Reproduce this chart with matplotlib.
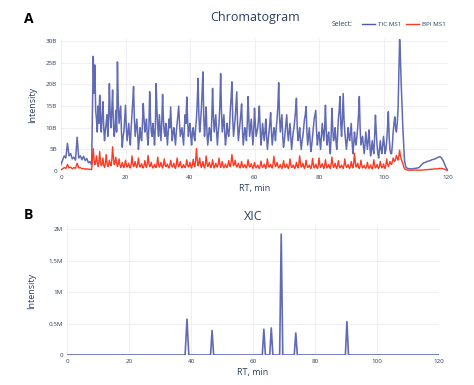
import numpy as np
import matplotlib
matplotlib.use("Agg")
import matplotlib.pyplot as plt
from matplotlib.lines import Line2D

plt.rcParams['font.family'] = ['Open Sans', 'DejaVu Sans']

# retention time (min): 0.5 min steps at the ends, 0.25 min in the dense part
rt_head = np.arange(0, 10, 0.5)
rt_body = np.arange(10, 107, 0.25)
rt_tail = np.arange(107, 120.5, 0.5)

# TIC MS1 intensity, in billions
tic_head = [1.5, 2.5, 3.5, 3.0, 6.4, 3.5, 4.0, 2.8, 3.2, 2.5, 7.8, 3.0, 3.5, 2.6, 3.4, 2.4, 2.9, 1.9, 2.2, 1.4]
tic_body = [
    26.5, 18, 24.5, 14, 12, 9, 15, 11, 17.5, 12, 9, 13, 16, 10, 7, 9.5, 11, 13, 8, 12,
    20.2, 13, 10, 14, 18.7, 11, 8, 10, 14, 9, 25.2, 16, 11, 13, 15, 9, 5.5, 8, 9, 12,
    15.2, 10, 7, 9, 11, 8, 6, 10, 13, 16, 19.5, 12, 8, 10, 12, 9, 5, 7, 10, 8,
    7, 11, 15.6, 12, 9, 10, 12, 8, 6, 10, 18.3, 12, 9, 8, 11, 9, 6, 10, 20.2, 14,
    10, 8, 13, 10, 7, 11, 17.7, 12, 9, 8, 11, 9, 6, 9, 12, 10, 14.8, 10, 7, 9,
    10, 8, 6, 9, 11, 13, 15, 11, 8, 9, 10, 8, 6, 10, 13, 11, 17.1, 12, 8, 10,
    11, 8, 6, 9, 10, 8, 7, 10, 12, 16, 21.4, 13, 9, 11, 14, 18, 22.9, 13, 8, 11,
    14.8, 9, 6, 8, 10, 9, 7, 12, 19.1, 13, 9, 11, 13, 9, 6, 9, 11, 15, 22.5, 14,
    9, 11, 13, 9, 6, 8, 11, 9, 8, 10, 14, 17, 20.6, 12, 8, 10, 12, 15, 18.3, 11,
    7, 9, 11, 13, 15.5, 10, 6, 8, 10, 9, 7, 11, 17.2, 12, 8, 10, 12, 9, 6, 9,
    14.5, 11, 8, 9, 10, 12, 15, 10, 6, 8, 11, 9, 7, 9, 12, 8, 5, 7, 9, 11,
    13.5, 9, 6, 8, 10, 9, 7, 10, 12, 15, 20.4, 13, 9, 11, 13, 8, 5.5, 7, 9, 11,
    13, 9, 7, 9, 11, 8, 5, 7, 9, 10, 12, 14, 16.8, 10, 7, 8, 10, 7, 5, 7,
    8, 10, 12, 13, 14.9, 9, 6, 8, 10, 7, 4.5, 6, 8, 10, 12, 13, 14, 9, 6, 8,
    9, 7, 5, 8, 11, 9, 7, 10, 15.2, 9, 6, 8, 9, 6, 4, 8, 14.5, 10, 7, 8,
    10, 7, 5, 8, 12, 14, 17.2, 11, 8, 12, 17.9, 12, 9, 7, 5, 7, 10, 8, 7, 9,
    11, 7, 4, 6, 9, 7, 6, 8, 10, 13, 17.2, 10, 6, 7, 8, 6, 4, 6, 9, 7,
    5, 7, 9.5, 6, 3.5, 5, 7, 5, 4, 8, 12.9, 9, 6, 4, 3, 5, 7, 5, 4, 6,
    8, 6, 4, 5, 7, 10, 13.7, 8, 5, 4, 4, 6, 9, 11, 12.5, 10, 9, 11, 14, 22,
    30.4, 26, 20, 15, 10, 6, 2.5, 1.5,
]
tic_tail = [0.8, 0.6, 0.5, 0.5, 0.5, 0.6,
            0.6, 0.7, 0.8, 1.2, 1.6, 1.9, 2.0, 2.2, 2.3, 2.4, 2.6, 2.7, 2.8, 3.0, 3.2, 3.3, 3.0, 2.4, 1.5, 0.6, 0.2]

# BPI MS1 intensity, in billions
bpi_head = [0.3, 0.5, 0.8, 0.6, 1.5, 0.7, 0.9, 0.5, 0.8, 0.6, 1.8, 0.7, 0.8, 0.5, 0.6, 0.4, 0.5, 0.4, 0.4, 0.3]
bpi_body = [
    5.2, 2.5, 1.5, 2.2, 3.5, 1.8, 1.0, 2.0, 4.5, 2.0, 1.2, 1.6, 3.0, 1.4, 0.8, 1.5, 3.8, 2.0, 1.0, 1.4,
    2.5, 1.6, 1.2, 2.5, 5.6, 3.0, 1.5, 2.0, 3.2, 1.8, 1.0, 1.6, 2.8, 1.5, 0.8, 1.2, 2.0, 1.2, 0.8, 1.4,
    2.5, 1.4, 0.9, 1.2, 1.8, 1.0, 0.7, 1.5, 3.5, 1.8, 1.0, 1.4, 2.2, 1.2, 0.8, 1.6, 3.0, 1.5, 0.9, 1.2,
    1.7, 1.0, 0.7, 1.3, 2.4, 1.3, 0.8, 1.8, 3.6, 1.8, 1.0, 1.3, 2.0, 1.1, 0.7, 1.0, 1.5, 1.0, 0.8, 1.6,
    3.2, 1.6, 0.9, 1.3, 2.0, 1.1, 0.7, 1.4, 2.8, 1.5, 1.0, 1.2, 1.6, 1.0, 0.7, 1.3, 2.5, 1.4, 0.9, 1.2,
    1.8, 1.0, 0.6, 1.5, 3.0, 1.6, 1.0, 1.4, 2.2, 1.2, 0.7, 1.0, 1.5, 1.0, 0.8, 1.4, 2.6, 1.4, 0.9, 1.2,
    2.0, 1.1, 0.7, 1.5, 2.7, 1.5, 1.0, 2.4, 5.2, 2.6, 1.2, 1.8, 3.0, 1.5, 0.8, 1.3, 2.2, 1.2, 0.7, 1.4,
    3.5, 1.8, 1.0, 1.4, 2.0, 1.2, 0.8, 1.5, 2.6, 1.4, 0.7, 1.1, 1.8, 1.2, 0.9, 1.6, 3.0, 1.6, 0.8, 1.3,
    2.2, 1.2, 0.7, 1.1, 1.6, 1.0, 0.8, 1.4, 2.4, 1.4, 1.0, 2.0, 3.8, 2.2, 1.2, 1.6, 2.5, 1.4, 0.9, 1.3,
    1.8, 1.1, 0.7, 1.3, 2.2, 1.2, 0.8, 1.1, 1.5, 1.0, 0.7, 1.4, 2.6, 1.4, 0.9, 1.2, 1.7, 1.0, 0.6, 1.1,
    2.0, 1.1, 0.7, 1.0, 1.4, 0.9, 0.6, 1.2, 2.3, 1.2, 0.8, 1.1, 1.6, 1.0, 0.6, 1.4, 2.8, 1.5, 0.9, 1.1,
    1.5, 1.0, 0.7, 1.6, 3.4, 1.8, 1.0, 1.3, 2.0, 1.1, 0.7, 1.0, 1.5, 0.9, 0.6, 1.2, 2.4, 1.3, 0.8, 1.1,
    1.6, 1.0, 0.6, 1.3, 2.8, 1.4, 0.8, 1.0, 1.4, 0.9, 0.6, 1.1, 2.0, 1.1, 0.7, 1.6, 3.5, 1.7, 0.9, 1.2,
    1.8, 1.0, 0.6, 1.2, 2.5, 1.3, 0.8, 1.0, 1.4, 0.9, 0.6, 1.3, 2.9, 1.4, 0.7, 1.0, 1.6, 1.0, 0.6, 1.2,
    3.0, 1.5, 0.8, 1.2, 1.7, 1.0, 0.6, 1.3, 2.6, 1.3, 0.7, 1.0, 1.5, 0.9, 0.6, 1.5, 3.2, 1.6, 0.8, 1.1,
    1.8, 1.0, 0.6, 1.2, 2.4, 1.2, 0.7, 1.0, 1.4, 0.9, 0.6, 1.3, 2.8, 1.4, 0.8, 1.0, 1.5, 0.9, 0.6, 1.1,
    2.2, 1.2, 0.7, 1.8, 4.1, 2.0, 0.9, 1.2, 1.8, 1.0, 0.6, 1.2, 2.5, 1.3, 0.7, 0.9, 1.3, 0.8, 0.6, 1.0,
    2.0, 1.1, 0.6, 0.9, 1.4, 0.8, 0.5, 1.2, 2.6, 1.3, 0.7, 1.0, 1.5, 0.9, 0.6, 1.1, 2.2, 1.2, 0.7, 1.0,
    1.6, 1.0, 0.6, 1.4, 2.8, 1.6, 1.0, 1.5, 2.2, 1.7, 1.5, 2.2, 3.0, 2.4, 2.2, 2.8, 3.6, 3.0, 2.5, 3.4,
    4.8, 3.5, 2.8, 2.2, 1.8, 1.0, 0.6, 0.4,
]
bpi_tail = [0.3, 0.2, 0.2, 0.2, 0.2, 0.2,
            0.2, 0.2, 0.2, 0.2, 0.2, 0.25, 0.3, 0.3, 0.35, 0.4, 0.4, 0.45, 0.5, 0.5, 0.55, 0.6, 0.6, 0.5, 0.4, 0.2, 0.1]

# XIC trace (min, millions)
rt_xic = [0, 38.1, 38.7, 39.3, 46.3, 46.8, 47.3, 63.0, 63.5, 64.0, 65.4, 65.9, 66.4,
          68.6, 69.1, 69.6, 73.3, 73.8, 74.3, 89.8, 90.3, 90.8, 120]
xic = [0, 0, 0.57, 0, 0, 0.39, 0, 0, 0.41, 0, 0, 0.43, 0,
       0, 1.92, 0, 0, 0.35, 0, 0, 0.53, 0, 0]

a_yticks = [0, 5, 10, 15, 20, 25, 30]
a_ylabels = ['0', '5B', '10B', '15B', '20B', '25B', '30B']
b_yticks = [0, 0.5, 1, 1.5, 2]
b_ylabels = ['0', '0.5M', '1M', '1.5M', '2M']
xticks = [0, 20, 40, 60, 80, 100, 120]

rt = np.concatenate([rt_head, rt_body, rt_tail])
tic = tic_head + tic_body + tic_tail
bpi = bpi_head + bpi_body + bpi_tail

blue = '#4f5aad'
red = '#ff3a22'
grid = '#ebecf2'
txt = '#2a3f5f'

fig = plt.figure(figsize=(4.74, 3.85), dpi=100)
W, H = 474, 385


def style(ax):
    for s in ax.spines.values():
        s.set_visible(False)
    ax.grid(True, color=grid, lw=0.6)
    ax.set_axisbelow(True)
    ax.tick_params(length=0, labelsize=4.5, colors=txt, pad=3)
    ax.set_xticks(xticks)


axA = fig.add_axes([61 / W, (H - 171) / H, 387 / W, 132 / H])
style(axA)
axA.plot(rt, tic, color=blue, lw=1.1, alpha=0.9)
axA.plot(rt, bpi, color=red, lw=1.0)
axA.set_xlim(0, 120)
axA.set_ylim(0, 30.5)
axA.set_yticks(a_yticks)
axA.set_yticklabels(a_ylabels)
axA.set_xlabel('RT, min', fontsize=6.5, color=txt, labelpad=3)
axA.set_ylabel('Intensity', fontsize=6.5, color=txt, labelpad=6)

axB = fig.add_axes([67 / W, (H - 355) / H, 372 / W, 129 / H])
style(axB)
axB.plot(rt_xic, xic, color=blue, lw=1.2, alpha=0.9)
axB.set_xlim(0, 120)
axB.set_ylim(0, 2.05)
axB.set_yticks(b_yticks)
axB.set_yticklabels(b_ylabels)
axB.set_xlabel('RT, min', fontsize=6.5, color=txt, labelpad=3)
axB.set_ylabel('Intensity', fontsize=6.5, color=txt, labelpad=9)

fig.text(255 / W, 1 - 17 / H, 'Chromatogram', ha='center', va='center', fontsize=9, color=txt)
fig.text(253 / W, 1 - 216 / H, 'XIC', ha='center', va='center', fontsize=9, color=txt)
fig.text(24 / W, 1 - 19 / H, 'A', ha='left', va='center', fontsize=10, fontweight='bold', color='black')
fig.text(24 / W, 1 - 215 / H, 'B', ha='left', va='center', fontsize=10, fontweight='bold', color='black')

# legend
fig.text(332 / W, 1 - 24 / H, 'Select:', ha='left', va='center', fontsize=5, color=txt)
fig.add_artist(Line2D([362 / W, 375 / W], [1 - 24 / H] * 2, color=blue, lw=1.0))
fig.text(378 / W, 1 - 24 / H, 'TIC MS1', ha='left', va='center', fontsize=4.5, color=txt)
fig.add_artist(Line2D([406 / W, 419 / W], [1 - 24 / H] * 2, color=red, lw=1.0))
fig.text(422 / W, 1 - 24 / H, 'BPI MS1', ha='left', va='center', fontsize=4.5, color=txt)

fig.savefig('out.png', dpi=100)
